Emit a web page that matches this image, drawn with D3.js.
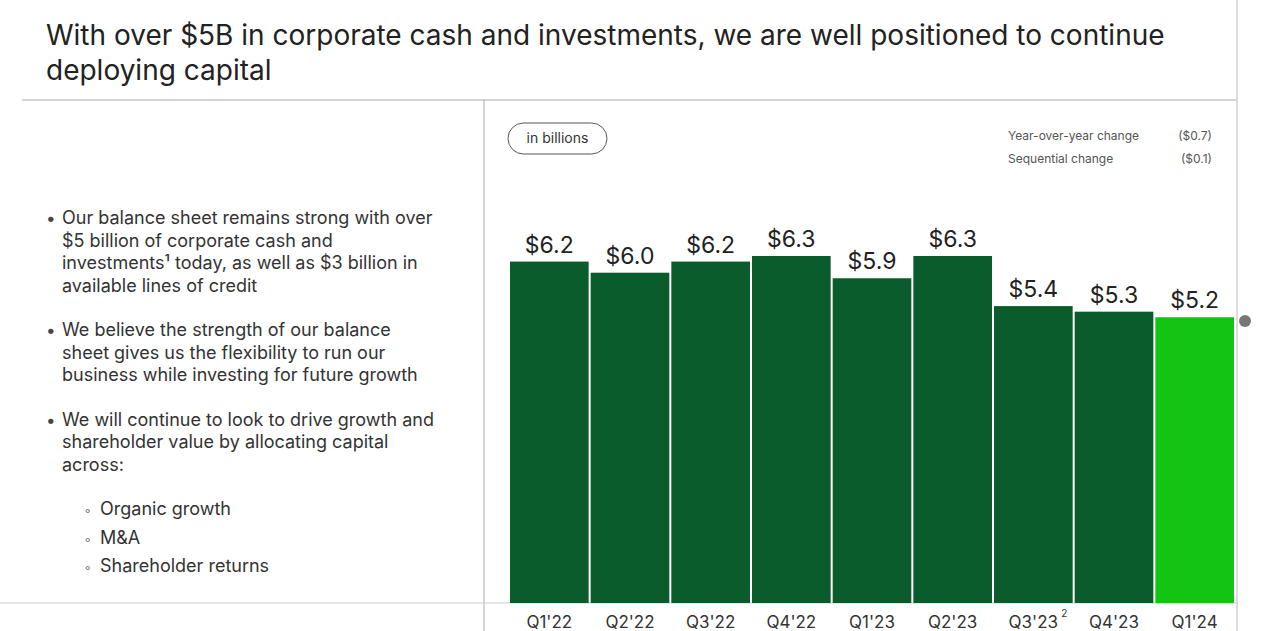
<!DOCTYPE html>
<html><head><meta charset="utf-8">
<script src="https://cdn.jsdelivr.net/npm/d3@7"></script>
<style>body{margin:0;background:#fff;font-family:Inter,"Noto Sans",sans-serif;}</style>
</head><body><svg id="c" width="1280" height="631"></svg>
<script>
var quarters = ["Q1'22","Q2'22","Q3'22","Q4'22","Q1'23","Q2'23","Q3'23","Q4'23","Q1'24"];
var cash = [6.2, 6.0, 6.2, 6.3, 5.9, 6.3, 5.4, 5.3, 5.2];
var labels = ["$6.2","$6.0","$6.2","$6.3","$5.9","$6.3","$5.4","$5.3","$5.2"];
var bullets = [
  ["Our balance sheet remains strong with over","$5 billion of corporate cash and","investments¹ today, as well as $3 billion in","available lines of credit"],
  ["We believe the strength of our balance","sheet gives us the flexibility to run our","business while investing for future growth"],
  ["We will continue to look to drive growth and","shareholder value by allocating capital","across:"]
];
var subBullets = ["Organic growth","M&A","Shareholder returns"];

var svg = d3.select("#c");
var ink = "#222";

// title
svg.append("text").attr("x",46).attr("y",45).attr("font-size",28).attr("fill",ink)
  .text("With over $5B in corporate cash and investments, we are well positioned to continue");
svg.append("text").attr("x",46).attr("y",80).attr("font-size",28).attr("fill",ink).text("deploying capital");
svg.append("line").attr("x1",22).attr("x2",1237).attr("y1",100).attr("y2",100).attr("stroke","#aaa");
svg.append("line").attr("x1",484).attr("x2",484).attr("y1",100).attr("y2",631).attr("stroke","#aaa");
svg.append("line").attr("x1",1237).attr("x2",1237).attr("y1",0).attr("y2",631).attr("stroke","#ddd").attr("stroke-width",2);
svg.append("line").attr("x1",0).attr("x2",1237).attr("y1",603).attr("y2",603).attr("stroke","#ccc");

// bullets
var yb = 224;
bullets.forEach(function(b){
  svg.append("text").attr("x",46).attr("y",yb).attr("font-size",17).attr("fill","#444").text("•");
  b.forEach(function(l,i){
    svg.append("text").attr("x",62).attr("y",yb+i*22.5).attr("font-size",18).attr("fill","#333").text(l);
  });
  yb += b.length*22.5 + 22;
});
subBullets.forEach(function(s,i){
  var y = 515 + i*28.5;
  svg.append("text").attr("x",84).attr("y",y).attr("font-size",13).attr("fill","#666").text("◦");
  svg.append("text").attr("x",100).attr("y",y).attr("font-size",18).attr("fill","#333").text(s);
});

// pill + change notes
svg.append("rect").attr("x",508).attr("y",123).attr("width",99).attr("height",31).attr("rx",15.5)
  .attr("fill","none").attr("stroke","#555");
svg.append("text").attr("x",557.5).attr("y",143).attr("text-anchor","middle").attr("font-size",14).attr("fill","#333").text("in billions");
[["Year-over-year change","($0.7)"],["Sequential change","($0.1)"]].forEach(function(r,i){
  svg.append("text").attr("x",1008).attr("y",140+i*23).attr("font-size",12).attr("fill","#555").text(r[0]);
  svg.append("text").attr("x",1212).attr("y",140+i*23).attr("text-anchor","end").attr("font-size",12).attr("fill","#555").text(r[1]);
});

// bars
var x = d3.scaleBand().domain(quarters).range([510,1234]).paddingInner(0.025);
var y = d3.scaleLinear().domain([0.066,6.3]).range([603,256]);
svg.selectAll("rect.bar").data(cash).enter().append("rect").attr("class","bar")
  .attr("x",function(d,i){return x(quarters[i]);})
  .attr("y",function(d){return y(d);})
  .attr("width",x.bandwidth())
  .attr("height",function(d){return 603-y(d);})
  .attr("fill",function(d,i){return i==cash.length-1 ? "#13c413" : "#0b5c2c";});
svg.selectAll("text.val").data(cash).enter().append("text")
  .attr("x",function(d,i){return x(quarters[i])+x.bandwidth()/2;})
  .attr("y",function(d){return y(d)-9;})
  .attr("text-anchor","middle").attr("font-size",23).attr("fill",ink)
  .text(function(d,i){return labels[i];});
svg.selectAll("text.q").data(quarters).enter().append("text")
  .attr("x",function(d){return x(d)+x.bandwidth()/2;})
  .attr("y",628).attr("text-anchor","middle").attr("font-size",17).attr("fill","#333")
  .text(function(d){return d;});
svg.append("text").attr("x",x("Q3'23")+x.bandwidth()/2+28).attr("y",617).attr("font-size",10).attr("fill","#333").text("2");
svg.append("circle").attr("cx",1245).attr("cy",321).attr("r",6).attr("fill","#777");
</script></body></html>
